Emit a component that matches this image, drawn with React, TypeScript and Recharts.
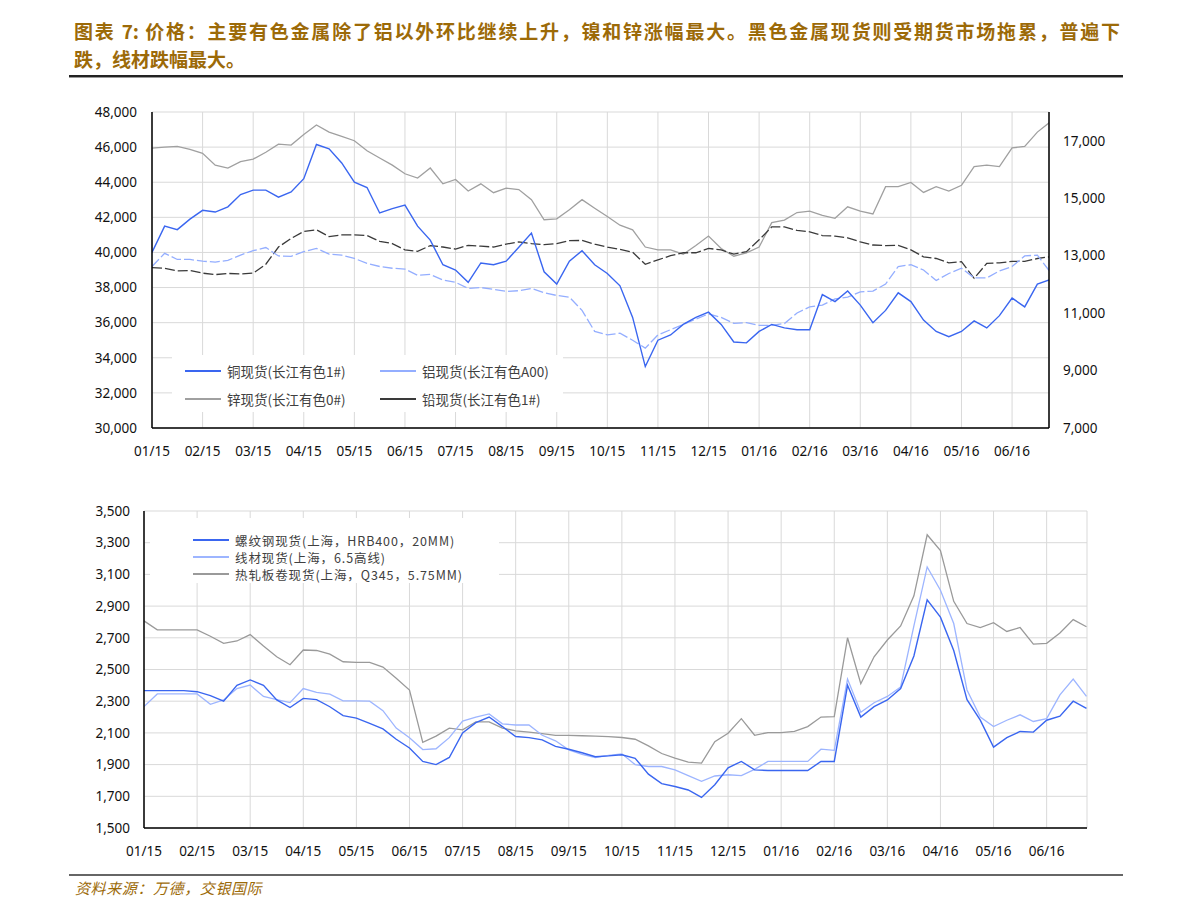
import React from "react";
import { LineChart, Line, XAxis, YAxis, CartesianGrid } from "recharts";

// month labels, one per tick (01/15 .. 06/16)
const monthLabels = [
  "01/15", "02/15", "03/15", "04/15", "05/15", "06/15", "07/15", "08/15", "09/15",
  "10/15", "11/15", "12/15", "01/16", "02/16", "03/16", "04/16", "05/16", "06/16",
];

// weekly spot prices, 4 points per month starting 01/15
const copper = [
  40000, 41500, 41300, 41900, 42400, 42300, 42600, 43300,
  43550, 43550, 43150, 43450, 44200, 46150, 45900, 45100,
  44000, 43700, 42250, 42500, 42700, 41500, 40700, 39300,
  39000, 38300, 39400, 39300, 39500, 40300, 41100, 38900,
  38200, 39500, 40100, 39300, 38800, 38100, 36300, 33500,
  35000, 35300, 35900, 36300, 36600, 35900, 34900, 34850,
  35500, 35900, 35700, 35600, 35600, 37600, 37200, 37800,
  37000, 36000, 36700, 37700, 37200, 36150, 35500, 35200,
  35500, 36100, 35700, 36400, 37400, 36900, 38200, 38450,
];

const aluminum = [
  39200, 39950, 39600, 39600, 39500, 39450, 39550, 39850,
  40100, 40280, 39800, 39780, 40040, 40230, 39900, 39850,
  39660, 39380, 39200, 39100, 39050, 38700, 38750, 38430,
  38300, 37950, 38000, 37900, 37780, 37820, 37950, 37700,
  37550, 37450, 36700, 35500, 35300, 35400, 35000, 34550,
  35300, 35600, 35900, 36200, 36500, 36300, 35960, 36000,
  35850, 35850, 35950, 36550, 36900, 37000, 37350, 37450,
  37750, 37800, 38200, 39200, 39300, 39000, 38400, 38800,
  39100, 38550, 38550, 38950, 39200, 39800, 39850, 38900,
];

const zinc = [
  16740, 16780, 16800, 16700, 16560, 16150, 16050, 16270,
  16360, 16600, 16880, 16850, 17220, 17550, 17300, 17150,
  17000, 16650, 16400, 16150, 15850, 15700, 16050, 15500,
  15650, 15250, 15500, 15190, 15350, 15300, 14950, 14250,
  14280, 14600, 14950, 14650, 14360, 14060, 13900, 13300,
  13200, 13200, 13050, 13350, 13680, 13250, 12980, 13100,
  13300, 14150, 14240, 14500, 14550, 14400, 14300, 14700,
  14550, 14450, 15400, 15400, 15550, 15200, 15400, 15250,
  15450, 16100, 16150, 16100, 16750, 16800, 17300, 17650,
];

const lead = [
  12580, 12560, 12470, 12480, 12390, 12340, 12380, 12360,
  12390, 12700, 13300, 13600, 13840, 13900, 13660, 13720,
  13720, 13700, 13500, 13420, 13200, 13150, 13350, 13300,
  13230, 13360, 13330, 13300, 13400, 13480, 13420, 13380,
  13420, 13520, 13530, 13400, 13300, 13220, 13120, 12700,
  12850, 13000, 13100, 13100, 13250, 13200, 13050, 13140,
  13550, 14000, 14000, 13880, 13830, 13700, 13680, 13620,
  13480, 13370, 13350, 13360, 13200, 12960, 12900, 12750,
  12790, 12210, 12730, 12750, 12800, 12800, 12900, 12960,
];

const rebar = [
  2367, 2367, 2367, 2367, 2360, 2335, 2300, 2400,
  2434, 2400, 2308, 2260, 2318, 2310, 2265, 2209,
  2193, 2160, 2125, 2060, 2005, 1920, 1900, 1945,
  2100, 2165, 2200, 2140, 2077, 2070, 2056, 2015,
  1997, 1975, 1950, 1955, 1962, 1940, 1840, 1780,
  1762, 1740, 1693, 1773, 1880, 1920, 1867, 1863,
  1863, 1863, 1863, 1920, 1920, 2400, 2200, 2266,
  2308, 2380, 2585, 2940, 2830, 2620, 2310, 2180,
  2010, 2070, 2109, 2105, 2180, 2205, 2300, 2255,
];

const wireRod = [
  2266, 2346, 2346, 2346, 2346, 2280, 2308, 2380,
  2402, 2330, 2310, 2291, 2380, 2356, 2345, 2302,
  2302, 2300, 2240, 2130, 2070, 1995, 2000, 2070,
  2175, 2200, 2220, 2157, 2150, 2150, 2085, 2050,
  1993, 1965, 1945, 1958, 1968, 1900, 1888, 1888,
  1867, 1830, 1794, 1828, 1836, 1830, 1870, 1920,
  1920, 1920, 1920, 1997, 1990, 2440, 2230, 2290,
  2330, 2390, 2775, 3147, 3000, 2790, 2371, 2200,
  2140, 2180, 2214, 2172, 2190, 2340, 2440, 2330,
];

const hotRolled = [
  2807, 2750, 2750, 2750, 2750, 2710, 2665, 2680,
  2720, 2648, 2580, 2530, 2623, 2620, 2597, 2549,
  2545, 2545, 2515, 2445, 2370, 2040, 2080, 2130,
  2119, 2170, 2170, 2130, 2113, 2105, 2095, 2085,
  2085, 2082, 2080, 2076, 2071, 2060, 2018, 1970,
  1941, 1915, 1909, 2045, 2098, 2190, 2085, 2102,
  2102, 2110, 2140, 2200, 2203, 2700, 2410, 2580,
  2686, 2775, 2965, 3350, 3250, 2930, 2790, 2765,
  2795, 2740, 2765, 2660, 2665, 2730, 2815, 2770,
];

const metalLeftTicks = [30000, 32000, 34000, 36000, 38000, 40000, 42000, 44000, 46000, 48000];
const metalRightTicks = [7000, 9000, 11000, 13000, 15000, 17000];
const steelTicks = [1500, 1700, 1900, 2100, 2300, 2500, 2700, 2900, 3100, 3300, 3500];

const metalRows = copper.map((v, i) => ({
  t: i / 4,
  copper: v,
  aluminum: aluminum[i],
  zinc: zinc[i],
  lead: lead[i],
}));

const steelRows = rebar.map((v, i) => ({
  t: i / 4,
  rebar: v,
  wireRod: wireRod[i],
  hotRolled: hotRolled[i],
}));

const monthTicks = monthLabels.map((_, i) => i);
const gold = "#9C6A08";
const cjk = "'Noto Sans CJK SC', 'Noto Sans', sans-serif";
const tickStyle = { fill: "#111", fontSize: 13.5, fontFamily: "'Noto Sans', sans-serif" };
const fmt = (v: number) => v.toLocaleString("en-US");

// one legend row: short coloured stroke followed by the series name
const LegendEntry = ({ x, y, color, label, size = 13.5, rowH = 16, spacing = 0 }: any) => (
  <div
    style={{
      position: "absolute", left: x, top: y - rowH / 2, height: rowH,
      display: "flex", alignItems: "center", overflow: "visible",
    }}
  >
    <div style={{ width: 36, height: 2, background: color, marginRight: 6 }} />
    <div
      style={{
        fontFamily: cjk, fontSize: size, lineHeight: `${rowH}px`, height: rowH,
        letterSpacing: spacing, color: "#404040", whiteSpace: "nowrap",
      }}
    >
      {label}
    </div>
  </div>
);

export default function App() {
  return (
    <div style={{ position: "relative", width: 1191, height: 918, margin: -8, background: "#fff", overflow: "hidden" }}>
      {/* heading */}
      <div
        style={{
          position: "absolute", left: 74, top: 17, width: 1046, fontFamily: cjk, fontWeight: 700,
          fontSize: 19, color: gold, lineHeight: "28px", textAlign: "justify", textAlignLast: "justify",
          whiteSpace: "nowrap",
        }}
      >
        图表 7: 价格：主要有色金属除了铝以外环比继续上升，镍和锌涨幅最大。黑色金属现货则受期货市场拖累，普遍下
      </div>
      <div
        style={{
          position: "absolute", left: 74, top: 45, fontFamily: cjk, fontWeight: 700,
          fontSize: 19, color: gold, lineHeight: "28px",
        }}
      >
        跌，线材跌幅最大。
      </div>
      <div style={{ position: "absolute", left: 69, top: 75, width: 1054, height: 2, background: "#222" }} />
      <div style={{ position: "absolute", left: 69, top: 77, width: 1054, height: 1, background: "#999" }} />

      {/* non-ferrous metals */}
      <div style={{ position: "absolute", left: 0, top: 0 }}>
        <LineChart width={1191} height={470} data={metalRows} margin={{ top: 112, right: 82, left: 92, bottom: 12 }}>
          <CartesianGrid stroke="#d9d9d9" yAxisId="left" />
          <XAxis
            type="number" dataKey="t" domain={[0, 17.73]} ticks={monthTicks} interval={0}
            tickFormatter={(v: number) => monthLabels[v]} tick={tickStyle} tickLine={false}
            tickMargin={12} height={30} axisLine={{ stroke: "#000", strokeWidth: 1.5 }} allowDataOverflow
          />
          <YAxis
            yAxisId="left" domain={[30000, 48000]} ticks={metalLeftTicks} tickFormatter={fmt}
            tick={tickStyle} tickLine={false} tickMargin={9} width={60}
            axisLine={{ stroke: "#000", strokeWidth: 1.5 }} allowDataOverflow
          />
          <YAxis
            yAxisId="right" orientation="right" domain={[7000, 18000]} ticks={metalRightTicks}
            tickFormatter={fmt} tick={tickStyle} tickLine={false} tickMargin={8} width={60}
            axisLine={{ stroke: "#000", strokeWidth: 1.5 }} allowDataOverflow
          />
          <Line yAxisId="right" type="linear" dataKey="zinc" stroke="#a0a0a0" strokeWidth={1.3} dot={false} isAnimationActive={false} />
          <Line yAxisId="right" type="linear" dataKey="lead" stroke="#3a3a3a" strokeWidth={1.3} strokeDasharray="10 3" dot={false} isAnimationActive={false} />
          <Line yAxisId="left" type="linear" dataKey="aluminum" stroke="#94aeff" strokeWidth={1.3} strokeDasharray="10 3" dot={false} isAnimationActive={false} />
          <Line yAxisId="left" type="linear" dataKey="copper" stroke="#3a66f0" strokeWidth={1.4} dot={false} isAnimationActive={false} />
        </LineChart>
      </div>

      <div style={{ position: "absolute", left: 172, top: 355, width: 391, height: 57, background: "#fff", zIndex: 2 }}>
        <LegendEntry x={13} y={16} color="#3a66f0" label="铜现货(长江有色1#)" />
        <LegendEntry x={208} y={16} color="#94aeff" label="铝现货(长江有色A00)" />
        <LegendEntry x={13} y={44} color="#a0a0a0" label="锌现货(长江有色0#)" />
        <LegendEntry x={208} y={44} color="#3a3a3a" label="铅现货(长江有色1#)" />
      </div>

      {/* ferrous spot */}
      <div style={{ position: "absolute", left: 0, top: 480 }}>
        <LineChart width={1191} height={390} data={steelRows} margin={{ top: 31, right: 104, left: 84, bottom: 12 }}>
          <CartesianGrid stroke="#d9d9d9" yAxisId="left" />
          <XAxis
            type="number" dataKey="t" domain={[0, 17.76]} ticks={monthTicks} interval={0}
            tickFormatter={(v: number) => monthLabels[v]} tick={tickStyle} tickLine={false}
            tickMargin={12} height={30} axisLine={{ stroke: "#000", strokeWidth: 1.5 }} allowDataOverflow
          />
          <YAxis
            yAxisId="left" domain={[1500, 3500]} ticks={steelTicks} tickFormatter={fmt}
            tick={tickStyle} tickLine={false} tickMargin={8} width={60}
            axisLine={{ stroke: "#000", strokeWidth: 1.5 }} allowDataOverflow
          />
          <Line yAxisId="left" type="linear" dataKey="hotRolled" stroke="#9a9a9a" strokeWidth={1.3} dot={false} isAnimationActive={false} />
          <Line yAxisId="left" type="linear" dataKey="wireRod" stroke="#9db5ff" strokeWidth={1.3} dot={false} isAnimationActive={false} />
          <Line yAxisId="left" type="linear" dataKey="rebar" stroke="#3a66f0" strokeWidth={1.4} dot={false} isAnimationActive={false} />
        </LineChart>
      </div>

      <div style={{ position: "absolute", left: 150, top: 518, width: 349, height: 65, background: "#fff", zIndex: 2 }}>
        <LegendEntry x={43} y={22} color="#3a66f0" size={12.5} rowH={17} spacing={0.9} label="螺纹钢现货(上海，HRB400，20MM)" />
        <LegendEntry x={43} y={39} color="#9db5ff" size={12.5} rowH={17} spacing={0.9} label="线材现货(上海，6.5高线)" />
        <LegendEntry x={43} y={56} color="#9a9a9a" size={12.5} rowH={17} spacing={0.9} label="热轧板卷现货(上海，Q345，5.75MM)" />
      </div>

      {/* source */}
      <div style={{ position: "absolute", left: 69, top: 874, width: 1054, height: 2, background: "#666" }} />
      <div
        style={{
          position: "absolute", left: 75, top: 878, fontFamily: cjk, fontStyle: "italic",
          fontSize: 15, color: gold, letterSpacing: 0.6, lineHeight: "20px",
        }}
      >
        资料来源：万德，交银国际
      </div>
    </div>
  );
}
